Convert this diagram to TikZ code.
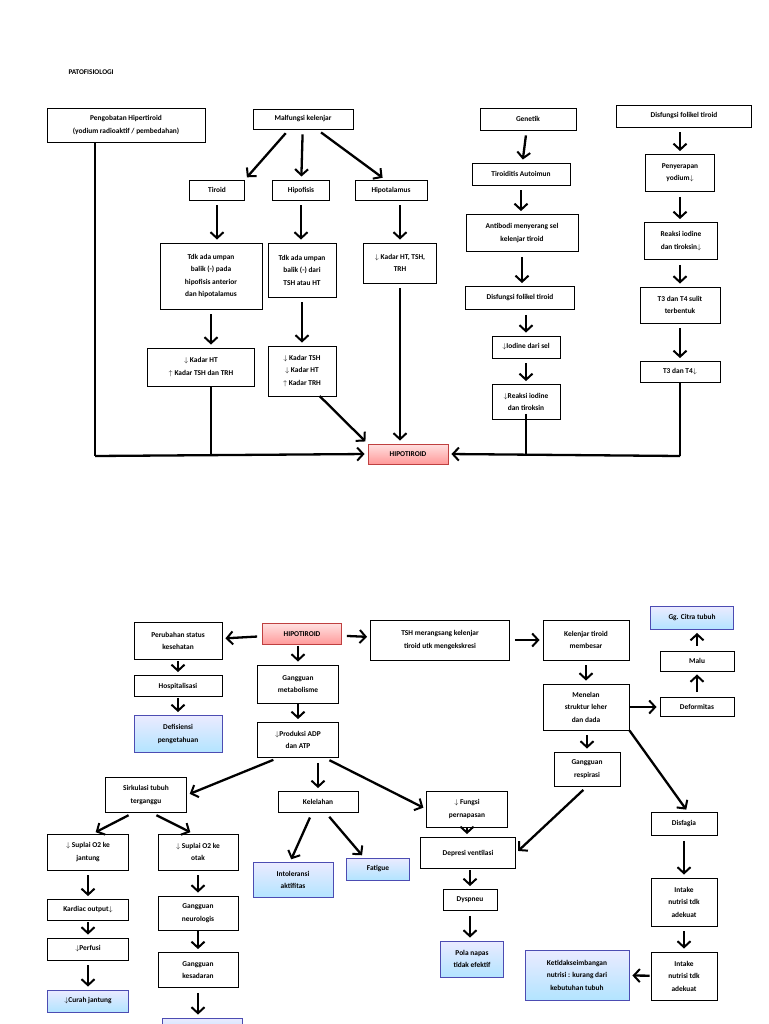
\documentclass[tikz,border=0pt]{standalone}
\usepackage{fontspec}
\setmainfont{Carlito}
\usetikzlibrary{arrows.meta}
\begin{document}
\begin{tikzpicture}[x=1pt,y=-1pt,
 box/.style={draw,line width=0.9pt,align=center,inner sep=1pt,font=\fontsize{7.4}{12.5}\selectfont\bfseries},
 blue/.style={box,top color=blue!8,bottom color=blue!35!cyan!30,draw=blue!40!gray},
 pink/.style={box,top color=red!12,bottom color=red!40,draw=red!50!gray},
 ar/.style={-{Straight Barb[length=6pt,width=13pt,line width=2pt]},line width=2.3pt,shorten <=5pt,shorten >=3pt},
 ln/.style={line width=2.3pt},
 ]
\clip (0,0) rectangle (768,1024);
\fill[white] (0,0) rectangle (768,1024);
\newcommand\bx[6][box]{\node[#1,minimum width=#4,minimum height=#5] (#2) at #3 {#6};}
% ---------- top ----------
\node[anchor=west,font=\fontsize{7.2}{8}\selectfont\bfseries] (title) at (65,72) {PATOFISIOLOGI};
\bx{peng}{(126,125)}{158}{34}{Pengobatan Hipertiroid\\(yodium radioaktif / pembedahan)}
\bx{malf}{(303,119)}{100}{20}{Malfungsi kelenjar}
\bx{tir}{(217,190)}{55}{20}{Tiroid}
\bx{hipof}{(301,190)}{57}{20}{Hipofisis}
\bx{hipot}{(391,190)}{72}{20}{Hipotalamus}
\bx{tdk1}{(211,276)}{102}{66}{Tdk ada umpan\\balik (-) pada\\hipofisis anterior\\dan hipotalamus}
\bx{tdk2}{(302,270)}{68}{54}{Tdk ada umpan\\balik (-) dari\\TSH atau HT}
\bx{kad3}{(400,263)}{73}{40}{$\downarrow$ Kadar HT, TSH,\\TRH}
\bx{kad1}{(201,367)}{107}{38}{$\downarrow$ Kadar HT\\$\uparrow$ Kadar TSH dan TRH}
\bx{kad2}{(302,371)}{68}{50}{$\downarrow$ Kadar TSH\\$\downarrow$ Kadar HT\\$\uparrow$ Kadar TRH}
\bx[pink]{hipo}{(408,454)}{80}{20}{HIPOTIROID}
\bx{gen}{(528,119)}{96}{22}{Genetik}
\bx{tau}{(521,174)}{98}{22}{Tiroiditis Autoimun}
\bx{anti}{(522,233)}{112}{37}{Antibodi menyerang sel\\kelenjar tiroid}
\bx{dis1}{(520,298)}{109}{23}{Disfungsi folikel tiroid}
\bx{iod}{(526,347)}{68}{22}{$\downarrow$Iodine dari sel}
\bx{rea1}{(526,402)}{68}{35}{$\downarrow$Reaksi iodine\\dan tiroksin}
\bx{dis2}{(684,116)}{135}{22}{Disfungsi folikel tiroid}
\bx{peny}{(680,173)}{69}{37}{Penyerapan\\yodium$\downarrow$}
\bx{rea2}{(681,241)}{73}{37}{Reaksi iodine\\dan tiroksin$\downarrow$}
\bx{t3s}{(680,305)}{80}{36}{T3 dan T4 sulit\\terbentuk}
\bx{t3}{(680,372)}{80}{21}{T3 dan T4$\downarrow$}
\coordinate (jl) at (95,456);
\coordinate (jr) at (680,456);
\draw[ar] ([xshift=-14pt]malf.south) -- (tir.north east);
\draw[ar] (malf) -- (hipof);
\draw[ar] ([xshift=14pt]malf.south) -- ([xshift=-6pt]hipot.north);
\draw[ar] (tir) -- (tir|-tdk1.north);
\draw[ar] (hipof) -- (hipof|-tdk2.north);
\draw[ar] (hipot.south-|kad3) -- (kad3);
\draw[ar] (tdk1) -- (tdk1|-kad1.north);
\draw[ar] (tdk2) -- (kad2);
\draw[ar] ([xshift=14pt,yshift=4pt]kad2.south) -- (hipo.north west);
\draw[ar] (kad3) -- (hipo.north-|kad3);
\draw[ln] (peng.south-|jl) -- (jl);
\draw[ar,shorten <=0pt] (jl) -- (hipo.west);
\draw[line width=1.5pt] (kad1.south-|tdk1) -- (tdk1|-jl);
\draw[ar] (gen) -- (tau);
\draw[ar] (tau) -- (tau|-anti.north);
\draw[ar] (anti) -- (anti|-dis1.north);
\draw[ar] (dis1.south-|iod) -- (iod);
\draw[ar] (iod) -- (rea1);
\draw[ar] (dis2.south-|peny) -- (peny);
\draw[ar] (peny) -- (peny|-rea2.north);
\draw[ar] (rea2.south-|t3s) -- (t3s);
\draw[ar] (t3s) -- (t3);
\draw[ln] (t3) -- (jr);
\draw[ar,shorten <=0pt] (jr) -- (hipo.east);
\draw[line width=1.2pt] ([yshift=6pt]rea1.south) -- (rea1|-jr);
% ---------- bottom ----------
\bx[pink]{h2}{(302,634)}{79}{21}{HIPOTIROID}
\bx{peru}{(178,641)}{88}{37}{Perubahan status\\kesehatan}
\bx{hosp}{(178,686)}{88}{21}{Hospitalisasi}
\bx[blue]{defi}{(178,734)}{88}{37}{Defisiensi\\pengetahuan}
\bx{gmet}{(298,684)}{81}{38}{Gangguan\\metabolisme}
\bx{prod}{(298,740)}{81}{35}{$\downarrow$Produksi ADP\\dan ATP}
\bx{tsh}{(440,640)}{139}{40}{TSH merangsang kelenjar\\tiroid utk mengekskresi}
\bx{kel}{(586,640)}{86}{40}{Kelenjar tiroid\\membesar}
\bx[blue]{citra}{(692,618)}{83}{23}{Gg. Citra tubuh}
\bx{malu}{(697,661)}{74}{20}{Malu}
\bx{defo}{(697,707)}{74}{19}{Deformitas}
\bx{mene}{(586,707)}{86}{46}{Menelan\\struktur leher\\dan dada}
\bx{gres}{(587,769)}{66}{34}{Gangguan\\respirasi}
\bx{sirk}{(146,795)}{81}{35}{Sirkulasi tubuh\\terganggu}
\bx{kele}{(318,802)}{80}{21}{Kelelahan}
\bx{fung}{(467,809)}{81}{36}{$\downarrow$ Fungsi\\pernapasan}
\bx{disf}{(684,824)}{66}{23}{Disfagia}
\bx{supj}{(88,852)}{81}{36}{$\downarrow$ Suplai O2 ke\\jantung}
\bx{supo}{(198,852)}{80}{36}{$\downarrow$ Suplai O2 ke\\otak}
\bx[blue]{into}{(293,880)}{80}{35}{Intoleransi\\aktifitas}
\bx[blue]{fati}{(378,869)}{63}{22}{Fatigue}
\bx{depr}{(468,853)}{95}{31}{Depresi ventilasi}
\bx{dysp}{(470,900)}{54}{21}{Dyspneu}
\bx[blue]{pola}{(472,959)}{63}{36}{Pola napas\\tidak efektif}
\bx{int1}{(684,902)}{66}{48}{Intake\\nutrisi tdk\\adekuat}
\bx{int2}{(684,976)}{66}{48}{Intake\\nutrisi tdk\\adekuat}
\bx[blue]{keti}{(577,975)}{104}{50}{Ketidakseimbangan\\nutrisi : kurang dari\\kebutuhan tubuh}
\bx{kard}{(88,910)}{81}{21}{Kardiac output$\downarrow$}
\bx{perf}{(88,949)}{81}{22}{$\downarrow$Perfusi}
\bx[blue]{cura}{(88,1001)}{81}{22}{$\downarrow$Curah jantung}
\bx{gneu}{(198,913)}{80}{34}{Gangguan\\neurologis}
\bx{gkes}{(198,970)}{80}{35}{Gangguan\\kesadaran}
\bx[blue]{resi}{(202,1029)}{80}{22}{Resiko cedera}
\draw[ar] (h2) -- (peru);
\draw[ar] (h2) -- (tsh);
\draw[ar,shorten <=1pt] (h2.south-|gmet) -- (gmet);
\draw[ar,shorten <=1pt] (peru) -- (hosp);
\draw[ar,shorten <=1pt] (hosp) -- (defi);
\draw[ar,shorten <=1pt] (gmet) -- (prod);
\draw[ar] ([xshift=-20pt]prod.south) -- (sirk.east);
\draw[ar] (prod.south-|kele) -- (kele);
\draw[ar] ([xshift=27pt]prod.south) -- (fung.west);
\draw[ar] (tsh) -- (kel);
\draw[ar] (kel) -- (mene);
\draw[ar,shorten <=1pt] (mene) -- (defo);
\draw[ar] (defo) -- (malu);
\draw[ar] (malu) -- (citra.south-|malu);
\draw[ar] (mene.south-|gres) -- (gres);
\draw[ar,shorten <=0pt] (mene.south east) -- ([xshift=4pt]disf.north);
\draw[ar] (gres.south) -- (depr.east);
\draw[ar,shorten <=1pt] (fung) -- (fung|-depr.north);
\draw[ar,shorten <=1pt] (depr.south-|dysp) -- (dysp);
\draw[ar] (dysp) -- (dysp|-pola.north);
\draw[ar] (disf) -- (int1);
\draw[ar] (int1) -- (int2);
\draw[ar,shorten <=1pt] (int2) -- (keti);
\draw[ar] ([xshift=-13pt]sirk.south) -- ([xshift=5pt]supj.north);
\draw[ar] ([xshift=6pt]sirk.south) -- ([xshift=-5pt]supo.north);
\draw[ar] ([xshift=-6pt]kele.south) -- ([xshift=-3pt]into.north);
\draw[ar] ([xshift=8pt]kele.south) -- ([xshift=-14pt]fati.north);
\draw[ar] (supj) -- (kard);
\draw[ar,shorten <=1pt] (kard) -- (perf);
\draw[ar] (perf) -- (cura);
\draw[ar] (supo) -- (gneu);
\draw[ar,shorten <=1pt] (gneu) -- (gkes);
\draw[ar] (gkes) -- (gkes|-resi.north);
\end{tikzpicture}
\end{document}
